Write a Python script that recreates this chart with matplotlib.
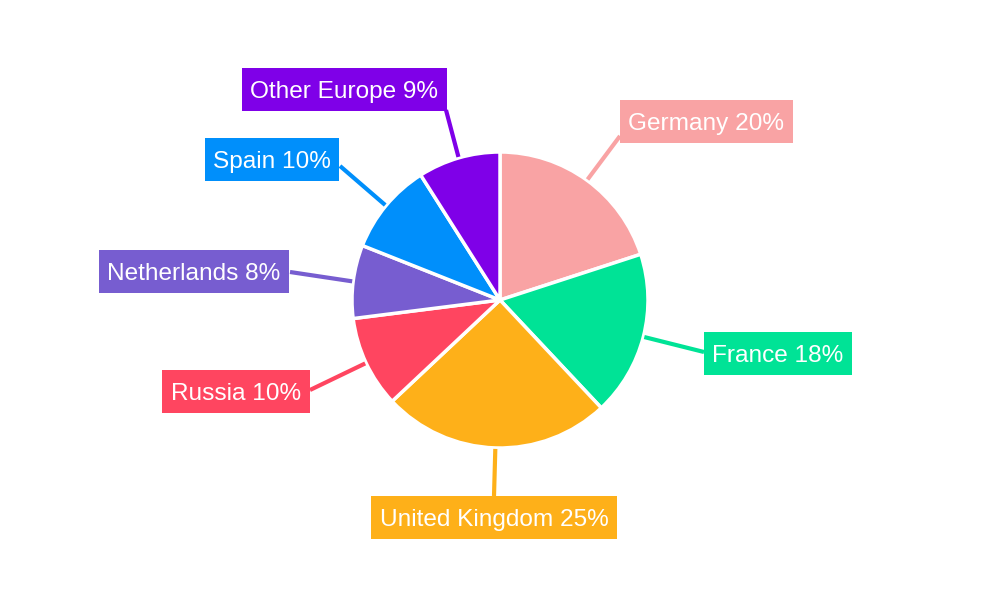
import numpy as np
import matplotlib
matplotlib.use("Agg")
import matplotlib.pyplot as plt
from matplotlib.patches import Rectangle

plt.rcParams['font.family'] = ['Liberation Sans', 'DejaVu Sans']

# ---- data ----
categories = ["Germany", "France", "United Kingdom", "Russia",
              "Netherlands", "Spain", "Other Europe"]
shares = [20, 18, 25, 10, 8, 10, 9]
colors = ["#F9A3A4", "#00E396", "#FEB019", "#FF4560",
          "#775DD0", "#008FFB", "#7F00E8"]

# ---- layout (pixel coords, y from top) ----
label_centers = [(706, 121.5), (778, 353.5), (494, 517.5), (236, 391.5),
                 (194, 271.5), (272, 159.5), (344, 89.5)]
line_ends = [(620, 136), (704, 352), (494, 496), (310, 390),
             (290, 272), (340, 166), (446, 110)]

W, H = 1000, 600
CX, CY, R = 500, 300, 148
PADX, BOXH, BASE_OFF = 8.5, 43, 8.5

fig = plt.figure(figsize=(10, 6), dpi=100)
ax = fig.add_axes([0, 0, 1, 1])

def Y(y):
    return H - y

ax.pie(shares, colors=colors, startangle=90, counterclock=False,
       radius=R, center=(CX, Y(CY)),
       wedgeprops=dict(edgecolor="white", linewidth=2.5))

ax.set_xlim(0, W)
ax.set_ylim(0, H)
ax.set_aspect("equal")
ax.axis("off")

total = float(sum(shares))
cum = 0.0
texts = []
for name, v, col, (lx, ly), (ex, ey) in zip(categories, shares, colors,
                                            label_centers, line_ends):
    theta = np.deg2rad(90 - 360 * (cum + v / 2) / total)
    cum += v
    sx = CX + (R + 1) * np.cos(theta)
    sy = Y(CY) + (R + 1) * np.sin(theta)
    ax.plot([sx, ex], [sy, Y(ey)], color=col, lw=3, solid_capstyle="butt",
            zorder=1)
    t = ax.text(lx, Y(ly + BASE_OFF), f"{name} {v}%", ha="center",
                va="baseline", fontsize=17.6, color="white", zorder=4)
    texts.append((t, col, lx, ly))

fig.canvas.draw()
renderer = fig.canvas.get_renderer()
for t, col, lx, ly in texts:
    bb = t.get_window_extent(renderer)
    w = bb.width + 2 * PADX
    ax.add_patch(Rectangle((lx - w / 2, Y(ly) - BOXH / 2), w, BOXH,
                           facecolor=col, edgecolor="none", zorder=3))

fig.savefig("out.png", dpi=100, facecolor="white")
